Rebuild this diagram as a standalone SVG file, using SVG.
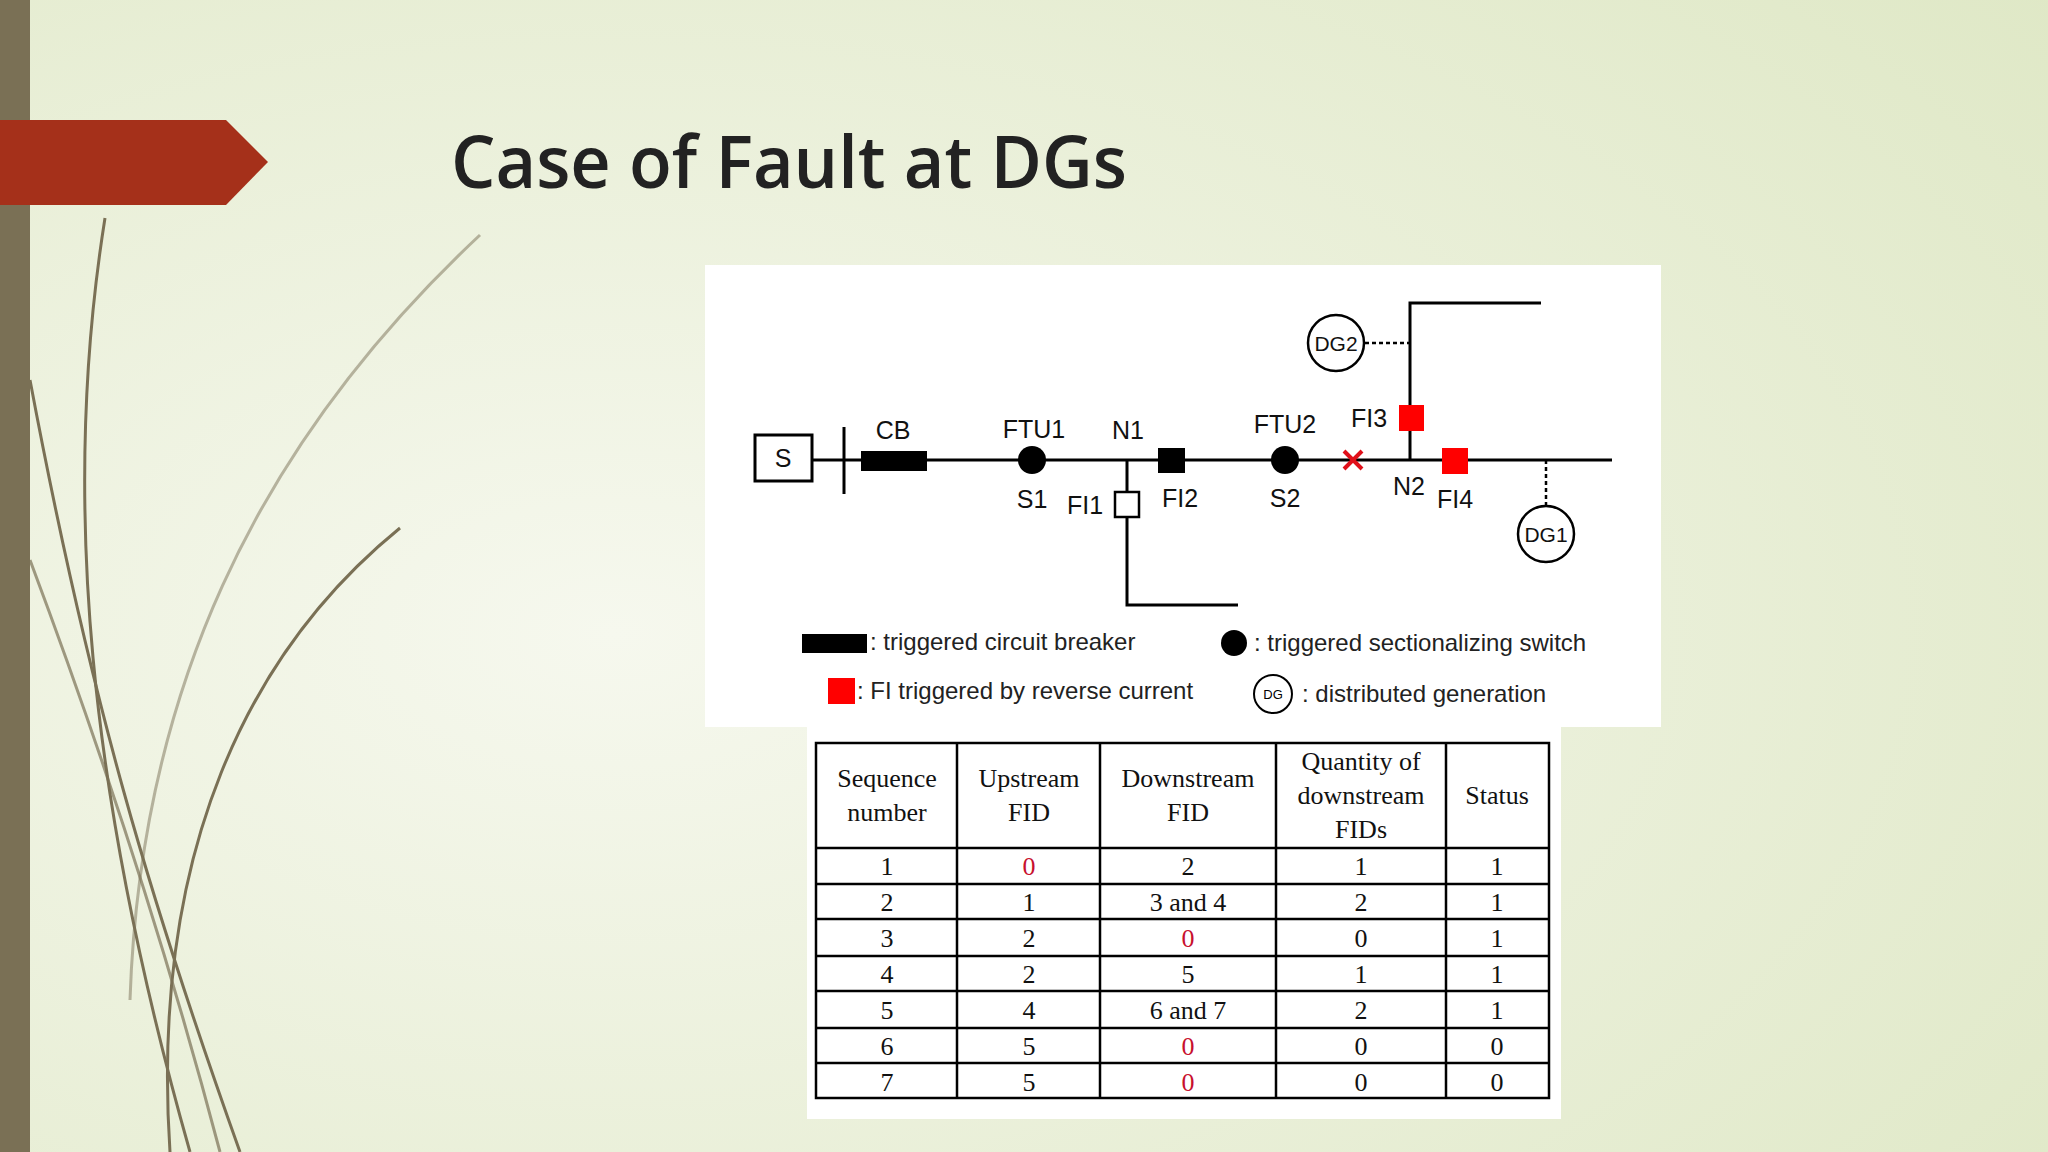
<svg xmlns="http://www.w3.org/2000/svg" width="2048" height="1152" viewBox="0 0 2048 1152">
<defs>
<radialGradient id="bg" cx="0.3" cy="0.55" r="0.9">
<stop offset="0" stop-color="#f6f8ee"/><stop offset="1" stop-color="#dfe8c6"/>
</radialGradient>
<style>
.ln{stroke:#000;stroke-width:3;fill:none}
.dl{stroke:#000;stroke-width:2.5;fill:none;stroke-dasharray:4 3}
.lb{font-family:"Liberation Sans",Arial,sans-serif;font-size:25px;fill:#111;text-anchor:middle}
.dg{font-family:"Liberation Sans",Arial,sans-serif;font-size:21px;fill:#111;text-anchor:middle}
.lg{font-family:"Liberation Sans",Arial,sans-serif;font-size:24px;fill:#222}
.tb{font-family:"Liberation Serif","Times New Roman",serif;font-size:26px;fill:#111;text-anchor:middle}
.red{fill:#c8102e}
.dec{stroke:#7a7055;fill:none;stroke-width:3}
</style>
</defs>
<rect width="2048" height="1152" fill="url(#bg)"/>
<g id="decor">
<path class="dec" d="M105 218 C 60 500, 90 800, 190 1152"/>
<path class="dec" d="M30 380 C 90 700, 150 900, 240 1152"/>
<path class="dec" d="M400 528 C 250 650, 150 850, 170 1152"/>
<path class="dec" d="M480 235 C 250 450, 140 700, 130 1000" stroke-width="1.5" opacity="0.5"/>
<path class="dec" d="M30 560 C 120 800, 180 1000, 220 1152" stroke-width="2" opacity="0.7"/>
</g>
<rect x="0" y="0" width="30" height="1152" fill="#7a7055"/>
<path d="M0 120 H226 L268 162 L226 205 H0 Z" fill="#a5301a"/>
<text x="451" y="188" font-family="'Open Sans',sans-serif" font-size="72" font-weight="600" fill="#222" textLength="676" lengthAdjust="spacingAndGlyphs">Case of Fault at DGs</text>
<rect x="705" y="265" width="956" height="462" fill="#fff"/>
<rect x="807" y="727" width="754" height="392" fill="#fff"/>
<g id="connectors">
<line class="ln" x1="812" y1="460" x2="1612" y2="460"/>
<line class="ln" x1="844" y1="427" x2="844" y2="494"/>
<polyline class="ln" points="1127,460 1127,605 1238,605"/>
<polyline class="ln" points="1410,460 1410,303 1541,303"/>
<line class="dl" x1="1365" y1="343" x2="1410" y2="343"/>
<line class="dl" x1="1546" y1="460" x2="1546" y2="505"/>
</g>
<g id="S"><rect x="755" y="435" width="57" height="46" fill="#fff" stroke="#000" stroke-width="3"/><text class="lb" x="783" y="467">S</text></g>
<g id="CB"><rect x="861" y="451" width="66" height="20" fill="#000"/><text class="lb" x="893" y="439">CB</text></g>
<g id="S1"><circle cx="1032" cy="460" r="14"/><text class="lb" x="1034" y="438">FTU1</text><text class="lb" x="1032" y="508">S1</text></g>
<g id="N1"><text class="lb" x="1128" y="439">N1</text></g>
<g id="FI1"><rect x="1115" y="492" width="24" height="25" fill="#fff" stroke="#000" stroke-width="2.5"/><text class="lb" x="1085" y="514">FI1</text></g>
<g id="FI2"><rect x="1158" y="448" width="27" height="25" fill="#000"/><text class="lb" x="1180" y="507">FI2</text></g>
<g id="S2"><circle cx="1285" cy="460" r="14"/><text class="lb" x="1285" y="433">FTU2</text><text class="lb" x="1285" y="507">S2</text></g>
<g id="fault"><path d="M1344 451 L1362 469 M1362 451 L1344 469" stroke="#e0101a" stroke-width="4"/></g>
<g id="N2"><text class="lb" x="1409" y="495">N2</text></g>
<g id="FI3"><rect x="1399" y="405" width="25" height="26" fill="#f00"/><text class="lb" x="1369" y="427">FI3</text></g>
<g id="FI4"><rect x="1442" y="448" width="26" height="26" fill="#f00"/><text class="lb" x="1455" y="508">FI4</text></g>
<g id="DG2"><circle cx="1336" cy="343" r="28" fill="#fff" stroke="#000" stroke-width="2.5"/><text class="dg" x="1336" y="351">DG2</text></g>
<g id="DG1"><circle cx="1546" cy="534" r="28" fill="#fff" stroke="#000" stroke-width="2.5"/><text class="dg" x="1546" y="542">DG1</text></g>
<g id="legend">
<rect x="802" y="634" width="65" height="19" fill="#000"/>
<text class="lg" x="870" y="650">: triggered circuit breaker</text>
<circle cx="1234" cy="643" r="13"/>
<text class="lg" x="1254" y="651">: triggered sectionalizing switch</text>
<rect x="828" y="678" width="27" height="26" fill="#f00"/>
<text class="lg" x="857" y="699">: FI triggered by reverse current</text>
<circle cx="1273" cy="694" r="19" fill="#fff" stroke="#000" stroke-width="2"/>
<text x="1273" y="699" font-family="'Liberation Sans',sans-serif" font-size="13" text-anchor="middle">DG</text>
<text class="lg" x="1302" y="702">: distributed generation</text>
</g>
<g id="table" stroke="#000" stroke-width="2.5" fill="none">
<rect x="816" y="743" width="733" height="355"/>
<path d="M957 743V1098M1100 743V1098M1276 743V1098M1446 743V1098M816 848H1549M816 884H1549M816 919H1549M816 956H1549M816 991H1549M816 1028H1549M816 1063H1549"/>
</g>
<g id="tabletext">
<text class="tb" x="887" y="787">Sequence</text><text class="tb" x="887" y="821">number</text>
<text class="tb" x="1029" y="787">Upstream</text><text class="tb" x="1029" y="821">FID</text>
<text class="tb" x="1188" y="787">Downstream</text><text class="tb" x="1188" y="821">FID</text>
<text class="tb" x="1361" y="770">Quantity of</text><text class="tb" x="1361" y="804">downstream</text><text class="tb" x="1361" y="838">FIDs</text>
<text class="tb" x="1497" y="804">Status</text>
<g>
<text class="tb" x="887" y="875">1</text><text class="tb red" x="1029" y="875">0</text><text class="tb" x="1188" y="875">2</text><text class="tb" x="1361" y="875">1</text><text class="tb" x="1497" y="875">1</text>
<text class="tb" x="887" y="911">2</text><text class="tb" x="1029" y="911">1</text><text class="tb" x="1188" y="911">3 and 4</text><text class="tb" x="1361" y="911">2</text><text class="tb" x="1497" y="911">1</text>
<text class="tb" x="887" y="947">3</text><text class="tb" x="1029" y="947">2</text><text class="tb red" x="1188" y="947">0</text><text class="tb" x="1361" y="947">0</text><text class="tb" x="1497" y="947">1</text>
<text class="tb" x="887" y="983">4</text><text class="tb" x="1029" y="983">2</text><text class="tb" x="1188" y="983">5</text><text class="tb" x="1361" y="983">1</text><text class="tb" x="1497" y="983">1</text>
<text class="tb" x="887" y="1019">5</text><text class="tb" x="1029" y="1019">4</text><text class="tb" x="1188" y="1019">6 and 7</text><text class="tb" x="1361" y="1019">2</text><text class="tb" x="1497" y="1019">1</text>
<text class="tb" x="887" y="1055">6</text><text class="tb" x="1029" y="1055">5</text><text class="tb red" x="1188" y="1055">0</text><text class="tb" x="1361" y="1055">0</text><text class="tb" x="1497" y="1055">0</text>
<text class="tb" x="887" y="1091">7</text><text class="tb" x="1029" y="1091">5</text><text class="tb red" x="1188" y="1091">0</text><text class="tb" x="1361" y="1091">0</text><text class="tb" x="1497" y="1091">0</text>
</g>
</g>
</svg>
